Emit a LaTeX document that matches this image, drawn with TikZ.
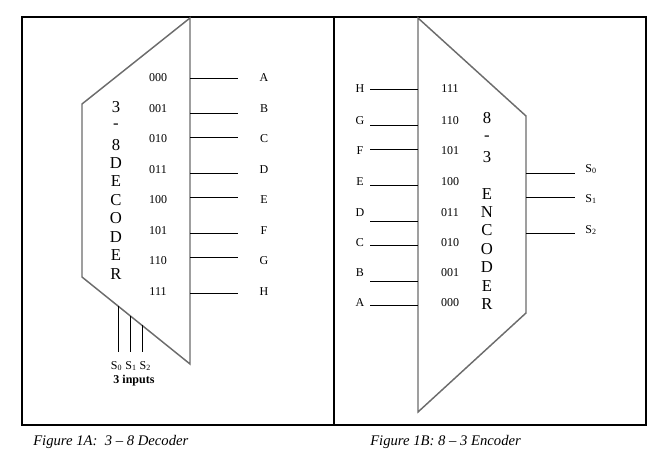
\documentclass[tikz,border=0pt]{standalone}
\usepackage{fontspec}
\setmainfont{Liberation Serif}
\begin{document}
\begin{tikzpicture}[x=0.75pt,y=-0.75pt,
  frame/.style={line width=1.8pt,black},
  trap/.style={draw=gray!85!black,line width=1.1pt},
  wire/.style={line width=0.6pt},
  code/.style={font=\fontsize{9}{9}\selectfont,inner sep=0pt},
  big/.style={font=\fontsize{12.5}{12.5}\selectfont,inner sep=0pt},
  figcap/.style={font=\fontsize{11}{11}\selectfont\itshape,inner sep=0pt,anchor=west}]
\useasboundingbox (0,0) rectangle (665,459);
\draw[frame] (22,17) rectangle (334,425);
\draw[frame] (334,17) rectangle (646,425);
% decoder
\draw[trap] (190,18) -- (82,104) -- (82,277) -- (190,364) -- cycle;
\foreach \c/\l/\yc/\yw [count=\i] in {000/A/78/78,001/B/109/113,010/C/139/137,011/D/170/173,100/E/200/197,101/F/231/233,110/G/261/257,111/H/292/293}{
  \node[code] (dc\i) at (158,\yc) {\c};
  \coordinate (dw\i) at (190,\yw);
  \coordinate (de\i) at (238,\yw);
  \node[code] (dl\i) at (264,\yc) {\l};
  \draw[wire] (dw\i) -- (de\i);
}
\foreach \t/\y [count=\i] in {3/107,-/126,8/145,D/163,E/181,C/200,O/218,D/237,E/255,R/274}{
  \node[big] (dd\i) at (116,\y) {\t};
}
\foreach \x/\yt [count=\i] in {118/306,130/316,142/325}{
  \coordinate (it\i) at (\x,\yt);
  \coordinate (ib\i) at (\x,352);
  \draw[wire] (it\i) -- (ib\i);
}
\node[code] (sin) at (131,366) {S\textsubscript{0} S\textsubscript{1} S\textsubscript{2}};
\node[code,font=\fontsize{9}{9}\selectfont\bfseries] (inp) at (134,381) {3 inputs};
\node[figcap] (capA) at (33,442) {Figure 1A:\ \ 3 – 8 Decoder};
% encoder
\draw[trap] (418,18) -- (526,116) -- (526,313) -- (418,412) -- cycle;
\foreach \c/\l/\yc/\yw [count=\i] in {111/H/89/89,110/G/121/125,101/F/151/149,100/E/182/185,011/D/213/221,010/C/243/245,001/B/273/281,000/A/303/305}{
  \node[code] (el\i) at (360,\yc) {\l};
  \coordinate (ew\i) at (370,\yw);
  \coordinate (ee\i) at (418,\yw);
  \node[code] (ec\i) at (450,\yc) {\c};
  \draw[wire] (ew\i) -- (ee\i);
}
\foreach \t/\y [count=\i] in {8/118,-/138,3/157,E/194,N/212,C/230,O/249,D/267,E/286,R/304}{
  \node[big] (ed\i) at (487,\y) {\t};
}
\foreach \y/\ly [count=\i] in {173/169,197/199,233/230}{
  \pgfmathtruncatemacro{\k}{\i-1}
  \coordinate (os\i) at (526,\y);
  \coordinate (oe\i) at (575,\y);
  \draw[wire] (os\i) -- (oe\i);
  \node[code] (ol\i) at (591,\ly) {S\textsubscript{\k}};
}
\node[figcap] (capB) at (370,442) {Figure 1B: 8 – 3 Encoder};
\end{tikzpicture}
\end{document}
